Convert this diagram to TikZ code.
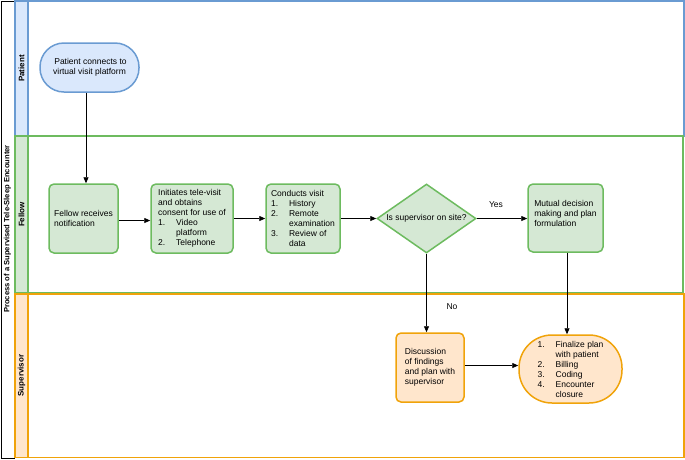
\documentclass[tikz,border=0pt]{standalone}
\usepackage{fontspec}
\setmainfont{Liberation Sans}
\usetikzlibrary{shapes.geometric,arrows.meta}
\definecolor{bluefill}{HTML}{DAE8FC}
\definecolor{blueline}{HTML}{6A9BD2}
\definecolor{greenfill}{HTML}{D5E8D4}
\definecolor{greenline}{HTML}{6DBB5F}
\definecolor{orangefill}{HTML}{FFE6CC}
\definecolor{orangeline}{HTML}{F0A30A}
\newcommand{\myitem}[2]{\makebox[18pt][l]{#1}#2}
\newcommand{\mycont}[1]{\hspace*{18pt}#1}
\tikzset{
  txt/.style={font=\fontsize{8.5}{10}\selectfont},
  gbox/.style={txt, draw=greenline, fill=greenfill, line width=1.5pt, rounded corners=5pt, align=left, inner sep=1pt},
  obox/.style={txt, draw=orangeline, fill=orangefill, line width=1.5pt, rounded corners=5pt, align=left, inner sep=1pt},
  lanehead/.style={line width=1.1pt},
  lanelabel/.style={font=\fontsize{8}{9}\selectfont\bfseries, rotate=90},
  arr/.style={line width=0.8pt, -{Triangle[length=6pt,width=5pt]}},
}
\begin{document}
\begin{tikzpicture}[x=1pt,y=-1pt]
\useasboundingbox (0,0) rectangle (685,459);
% pool title strip
\draw[black, line width=1pt] (1,1) rectangle (14,458);
\node[lanelabel, font=\fontsize{7.6}{9}\selectfont\bfseries] (title) at (7.5,229) {Process of a Supervised Tele-Sleep Encounter};
% Patient lane
\draw[lanehead, draw=blueline] (28,1) rectangle (684,136);
\draw[lanehead, draw=blueline, fill=bluefill] (15,1) rectangle (28,136);
\node[lanelabel] (lpat) at (21.5,68.5) {Patient};
% Supervisor lane
\draw[lanehead, draw=orangeline] (28,294) rectangle (684,457.5);
\draw[lanehead, draw=orangeline, fill=orangefill] (15,294) rectangle (28,457.5);
\node[lanelabel] (lsup) at (21.5,375.5) {Supervisor};
% Fellow lane
\draw[lanehead, draw=greenline] (28,136) rectangle (683,292.5);
\draw[lanehead, draw=greenline, fill=greenfill] (15,136) rectangle (28,292.5);
\node[lanelabel] (lfel) at (21.5,214.5) {Fellow};

% nodes
\node[txt, draw=blueline, fill=bluefill, line width=1.5pt, rounded corners=24pt,
      minimum width=99pt, minimum height=49pt, align=center, inner sep=1pt] (pat) at (89.5,67.5)
  {\hspace*{2pt}Patient connects to\\virtual visit platform};
\node[gbox, minimum width=69pt, minimum height=69pt] (fel) at (83.5,218.5)
  {Fellow receives\\notification};
\node[gbox, minimum width=82pt, minimum height=69pt] (ini) at (192,218.5)
  {Initiates tele-visit\\and obtains\\consent for use of\\\myitem{1.}{Video}\\\mycont{platform}\\\myitem{2.}{Telephone}};
\node[gbox, minimum width=74pt, minimum height=69pt] (con) at (303,218.5)
  {Conducts visit\\\myitem{1.}{History}\\\myitem{2.}{Remote}\\\mycont{examination}\\\myitem{3.}{Review of}\\\mycont{data}};
\node[txt, diamond, draw=greenline, fill=greenfill, line width=1.5pt, aspect=1.43,
      minimum width=99pt, minimum height=69pt, inner sep=0pt] (dia) at (426.5,218.5)
  {Is supervisor on site?};
\node[gbox, minimum width=75pt, minimum height=68pt] (mut) at (565.5,218)
  {Mutual decision\\making and plan\\formulation\\\mbox{}};
\node[obox, minimum width=68pt, minimum height=69pt] (dis) at (430,367.5)
  {Discussion\\of findings\\and plan with\\supervisor};
\node[obox, rounded corners=33pt, minimum width=103pt, minimum height=68pt] (fin) at (570.5,369)
  {\myitem{1.}{Finalize plan}\\\mycont{with patient}\\\myitem{2.}{Billing}\\\myitem{3.}{Coding}\\\myitem{4.}{Encounter}\\\mycont{closure}};

% connectors
\draw[arr] ([xshift=2.5pt]fel.north |- pat.south) -- ([xshift=2.5pt]fel.north);
\draw[arr] ([yshift=-2pt]fel.east) -- ([yshift=-2pt]ini.west);
\draw[arr] (ini.east) -- (con.west);
\draw[arr] (con.east) -- (dia.west);
\draw[arr] (dia.east) -- (dia.east -| mut.west);
\draw[arr] (dia.south) -- (dia.south |- dis.north);
\draw[arr] ([xshift=1.5pt]mut.south) -- ([xshift=1.5pt]mut.south |- fin.north);
\draw[arr] ([yshift=2pt]dis.east) -- ([yshift=2pt]dis.east -| fin.west);
\node[txt] (yes) at (496,205) {Yes};
\node[txt] (no) at (452,307) {No};
\end{tikzpicture}
\end{document}
